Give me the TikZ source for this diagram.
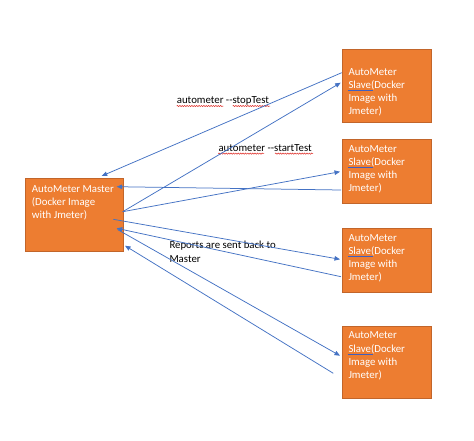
\documentclass[tikz,border=0pt]{standalone}
\usepackage{fontspec}
\setmainfont{Carlito}
\usetikzlibrary{arrows.meta,decorations.pathmorphing}
\definecolor{boxfill}{HTML}{ED7D31}
\definecolor{boxline}{HTML}{C2652A}
\definecolor{linkblue}{HTML}{4472C4}
\definecolor{spellred}{HTML}{E0302A}
\definecolor{spellblue}{HTML}{3F5FC0}
\begin{document}
\begin{tikzpicture}[x=1pt,y=-1pt,
  box/.style={draw=boxline, fill=boxfill, line width=0.8pt, rectangle, anchor=north west, inner sep=0pt},
  boxtext/.style={anchor=north west, inner sep=0pt, align=left, text=white, font=\fontsize{10.8}{13.1}\selectfont},
  lbl/.style={anchor=base west, inner sep=0pt, align=left, text=black, font=\fontsize{10.8}{13.1}\selectfont},
  link/.style={draw=linkblue, line width=0.75pt, -{Triangle[length=5.5pt,width=4.5pt]}},
  redwave/.style={draw=spellred, line width=0.5pt, decorate, decoration={snake, amplitude=0.6pt, segment length=2.4pt}},
  bluewave/.style={draw=spellblue, line width=0.6pt}
]
\useasboundingbox (0,0) rectangle (474,440);
\fill[white] (0,0) rectangle (474,440);

% boxes
\node[box, minimum width=98pt, minimum height=73pt] (m) at (25,178) {};
\node[box, minimum width=89pt, minimum height=73pt] (s1) at (342,49) {};
\node[box, minimum width=89pt, minimum height=64pt] (s2) at (342,139) {};
\node[box, minimum width=89pt, minimum height=64pt] (s3) at (342,228) {};
\node[box, minimum width=89pt, minimum height=72pt] (s4) at (342,326) {};

% box texts
\node[boxtext] (mt) at (31.7,185.1) {AutoMeter Master\\(Docker Image\\with Jmeter)};
\node[boxtext] (s1t) at (348.3,68.4) {AutoMeter\\Slave(Docker\\Image with\\Jmeter)};
\node[boxtext] (s2t) at (348.3,145.1) {AutoMeter\\Slave(Docker\\Image with\\Jmeter)};
\node[boxtext] (s3t) at (348.3,234.1) {AutoMeter\\Slave(Docker\\Image with\\Jmeter)};
\node[boxtext] (s4t) at (348.3,331.8) {AutoMeter\\Slave(Docker\\Image with\\Jmeter)};

% spell-check underlines under "Slave"
\draw[bluewave] (348.3,90) -- (373.3,90);
\draw[bluewave] (348.3,167.3) -- (373.3,167.3);
\draw[bluewave] (348.3,256.7) -- (373.3,256.7);
\draw[bluewave] (348.3,354.3) -- (373.3,354.3);

% labels
\node[lbl] (lstop) at (176.7,103.7) {autometer -{}-stopTest};
\node[lbl] (lstart) at (218.3,151.3) {autometer -{}-startTest};
\node[lbl] (lrep) at (169.3,262) {Reports are sent back to\\Master};

\draw[redwave] (176.7,106) -- (223.3,106);
\draw[redwave] (232.7,106) -- (270,106);
\draw[redwave] (218.3,153.6) -- (264,153.6);
\draw[redwave] (275,153.6) -- (313,153.6);

% connector end points
\coordinate (mTop) at (101.7,176);
\coordinate (mOut) at (122.7,211.7);
\coordinate (mIn2) at (116.7,186.7);
\coordinate (mOut3) at (113.3,219.3);
\coordinate (mIn3) at (116.7,228.3);
\coordinate (mOut4) at (117.5,229.5);
\coordinate (mIn4) at (125,245.7);
\coordinate (s1Out) at (341.7,72.7);
\coordinate (s1In) at (340.7,82.7);
\coordinate (s2In) at (340,171.7);
\coordinate (s2Out) at (341,190);
\coordinate (s3In) at (340,259.3);
\coordinate (s3Out) at (341,276.7);
\coordinate (s4In) at (340,355.7);
\coordinate (s4Out) at (333.3,373.3);

% connectors
\draw[link] (s1Out) -- (mTop);
\draw[link] (mOut) -- (s1In);
\draw[link] (mOut) -- (s2In);
\draw[link] (s2Out) -- (mIn2);
\draw[link] (mOut3) -- (s3In);
\draw[link] (s3Out) -- (mIn3);
\draw[link] (mOut4) -- (s4In);
\draw[link] (s4Out) -- (mIn4);
\end{tikzpicture}
\end{document}
